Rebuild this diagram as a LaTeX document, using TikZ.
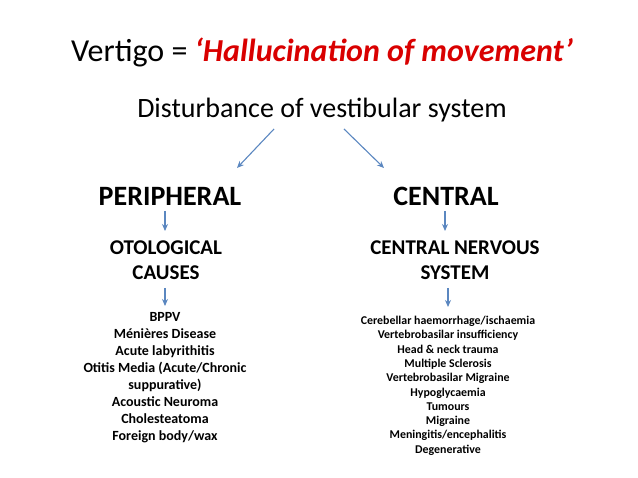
\documentclass[tikz,border=0pt]{standalone}
\usepackage{fontspec}
\setmainfont{Carlito}
\usetikzlibrary{arrows.meta}
\definecolor{arrc}{HTML}{5B87C0}
\begin{document}
\begin{tikzpicture}[x=1pt,y=-1pt,
  arr/.style={draw=arrc,line width=1.1pt,-{Stealth[length=7pt,width=6pt]}},
  txt/.style={inner sep=0pt,align=center}]
\useasboundingbox (0,0) rectangle (638,478);
\node[txt,font=\fontsize{32}{36}\selectfont] (title) at (322,52) {Vertigo = \textcolor{red!85!black}{\textbf{\textit{‘Hallucination of movement’}}}};
\node[txt,font=\fontsize{28}{32}\selectfont] (dist) at (322,110) {Disturbance of vestibular system};
\node[txt,font=\fontsize{28}{32}\selectfont\bfseries] (per) at (170,196) {PERIPHERAL};
\node[txt,font=\fontsize{28}{32}\selectfont\bfseries] (cen) at (446,196) {CENTRAL};
\node[txt,font=\fontsize{21}{25}\selectfont\bfseries] (oto) at (166,260) {OTOLOGICAL\\CAUSES};
\node[txt,font=\fontsize{21}{25}\selectfont\bfseries] (cns) at (455,260) {CENTRAL NERVOUS\\SYSTEM};
\node[txt,font=\fontsize{14}{17}\selectfont\bfseries,anchor=north] (pl) at (165,312) {BPPV\\Ménières Disease\\Acute labyrithitis\\Otitis Media (Acute/Chronic\\suppurative)\\Acoustic Neuroma\\Cholesteatoma\\Foreign body/wax};
\node[txt,font=\fontsize{11.9}{14.3}\selectfont\bfseries,anchor=north] (cl) at (448,316) {Cerebellar haemorrhage/ischaemia\\Vertebrobasilar insufficiency\\Head \& neck trauma\\Multiple Sclerosis\\Vertebrobasilar Migraine\\Hypoglycaemia\\Tumours\\Migraine\\Meningitis/encephalitis\\Degenerative};
\coordinate (a1) at (274,129); \coordinate (b1) at (237,168);
\coordinate (a2) at (344,129); \coordinate (b2) at (384,168);
\draw[arr] (a1) -- (b1);
\draw[arr] (a2) -- (b2);
\draw[arr] (165,211) -- (165,231);
\draw[arr] (445,211) -- (445,231);
\draw[arr] (165,288) -- (165,306);
\draw[arr] (448,288) -- (448,307);
\end{tikzpicture}
\end{document}
